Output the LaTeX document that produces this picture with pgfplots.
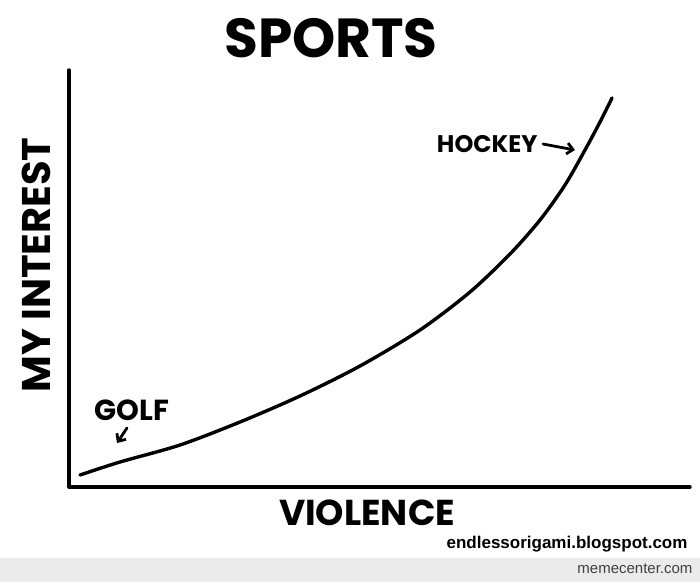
\documentclass[border=0pt]{standalone}
\usepackage{pgfplots}
\pgfplotsset{compat=1.18}
\usepackage{fontspec}
\setmainfont{Poppins}
\newfontfamily\wmfont{Liberation Sans}
\usetikzlibrary{arrows.meta}
\begin{document}
\begin{tikzpicture}[x=1pt,y=1pt]
\path[use as bounding box] (0,0) rectangle (700,582);
\fill[white] (0,0) rectangle (700,582);
\fill[black!8] (0,0) rectangle (700,24);
\begin{axis}[
  at={(69pt,95pt)}, anchor=south west,
  scale only axis, width=621pt, height=417pt,
  xmin=69, xmax=690, ymin=95, ymax=512,
  axis lines=left, axis line style={line width=3.4pt, -, line cap=round},
  xtick=\empty, ytick=\empty,
  clip=false,
]
\addplot[line width=3.4pt, smooth, line cap=round] coordinates {
(80,107) (120,120) (180,137) (240,160) (300,186) (360,216) (420,252)
(470,290) (510,328) (540,362) (565,397) (585,432) (600,460) (612,484)};
\node[font=\bfseries\fontsize{55}{58}\selectfont] at (axis cs:331,544) {SPORTS};
\node[font=\bfseries\fontsize{36}{40}\selectfont] at (axis cs:367,69) {VIOLENCE};
\node[font=\bfseries\fontsize{40}{44}\selectfont, rotate=90] at (axis cs:36,317) {MY INTEREST};
\node[font=\bfseries\fontsize{24}{26}\selectfont, anchor=east] at (axis cs:541,438) {HOCKEY};
\draw[line width=2.8pt, line cap=round, -{Straight Barb[length=6pt,width=11pt,line width=2.8pt]}] (axis cs:543,438) -- (axis cs:575,432);
\node[font=\bfseries\fontsize{29}{31}\selectfont] at (axis cs:132,172) {GOLF};
\draw[line width=2.8pt, line cap=round, -{Straight Barb[length=6pt,width=11pt,line width=2.8pt]}] (axis cs:127,154) -- (axis cs:117,139);
\end{axis}
\node[font=\wmfont\bfseries\fontsize{17}{19}\selectfont, anchor=east] at (691,38) {endlessorigami.blogspot.com};
\node[font=\wmfont\fontsize{15}{17}\selectfont, text=black!75, anchor=east] at (696,13) {memecenter.com};
\end{tikzpicture}
\end{document}
